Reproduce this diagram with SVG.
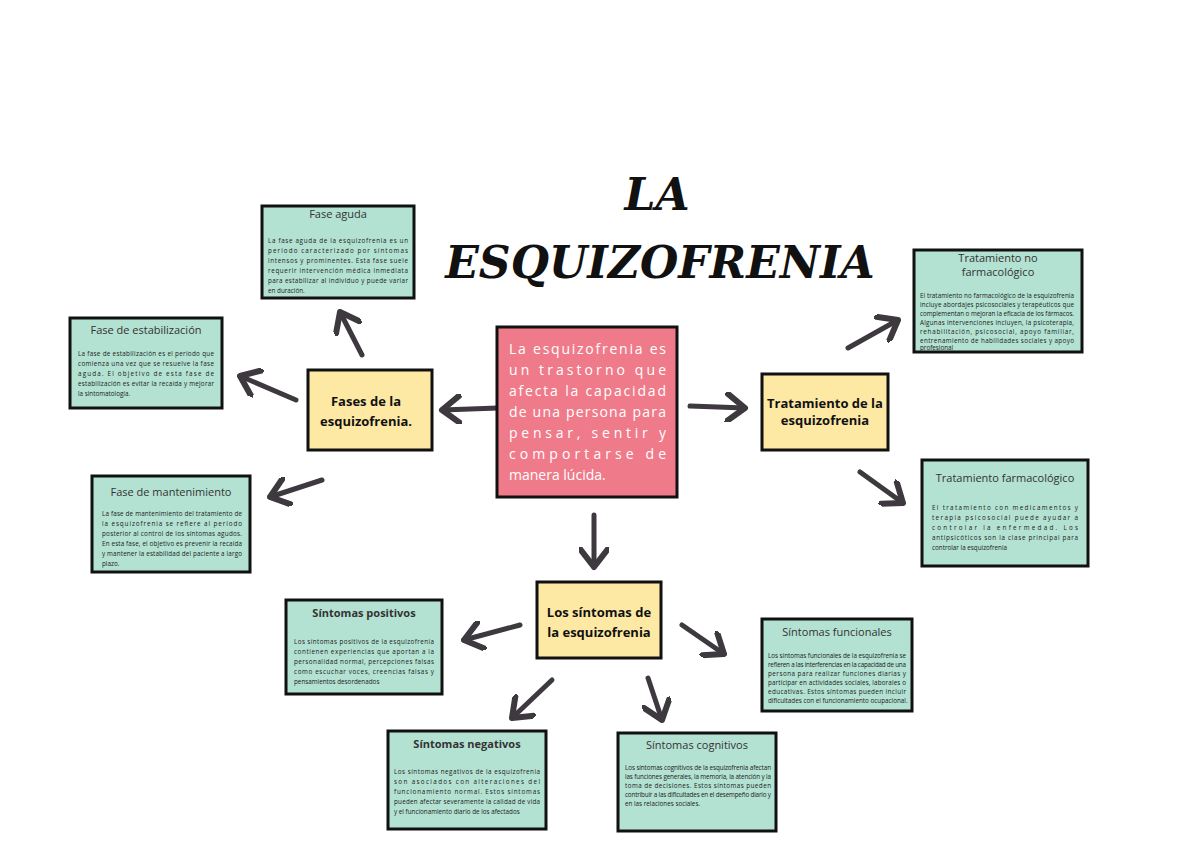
<svg xmlns="http://www.w3.org/2000/svg" width="1200" height="849" viewBox="0 0 1200 849">
<defs>
<marker id="ah" markerWidth="6" markerHeight="6" refX="4" refY="3" orient="auto" markerUnits="strokeWidth"><polyline points="0.5,0.3 4,3 0.5,5.7" fill="none" stroke="#3d393f" stroke-width="1.2" stroke-linecap="round" stroke-linejoin="round"/></marker>
</defs>
<style>
.g{fill:#b3e1d2;stroke:#111;stroke-width:3}
.y{fill:#fde9a4;stroke:#111;stroke-width:3}
.p{fill:#ef7b8a;stroke:#111;stroke-width:3}
.h{font-family:"Open Sans","Liberation Sans",sans-serif;font-size:11px;fill:#333;text-anchor:middle}
.b{font-family:"Open Sans","Liberation Sans",sans-serif;font-size:6.3px;fill:#222}
.yt{font-family:"Open Sans","Liberation Sans",sans-serif;font-size:13px;font-weight:bold;fill:#111;text-anchor:middle}
.c path{fill:none;stroke:#3d393f;stroke-width:5;stroke-linecap:round;marker-end:url(#ah)}
.t{font-family:"DejaVu Serif",serif;font-weight:bold;font-style:italic;font-size:44px;fill:#111;text-anchor:middle}
</style>
<rect width="1200" height="849" fill="#fff"/>
<text class="t" x="657" y="210">LA</text>
<text class="t" x="660" y="278">ESQUIZOFRENIA</text>
<g class="c">
<path d="M362,355 L340,312"/>
<path d="M296,400 L240,376"/>
<path d="M322,480 L270,497"/>
<path d="M498,408 L442,410"/>
<path d="M690,406 L745,408"/>
<path d="M848,348 L898,320"/>
<path d="M860,472 L903,503"/>
<path d="M594,515 L594,567"/>
<path d="M520,625 L464,640"/>
<path d="M682,625 L724,654"/>
<path d="M552,680 L512,718"/>
<path d="M648,678 L662,720"/>
</g>
<g id="central"><rect class="p" x="497" y="327" width="180" height="170"/>
<text font-family="Open Sans,Liberation Sans,sans-serif" font-size="14" fill="#fff" lengthAdjust="spacing"><tspan x="509" y="354" textLength="157">La esquizofrenia es</tspan><tspan x="509" y="375" textLength="157">un trastorno que</tspan><tspan x="509" y="396" textLength="157">afecta la capacidad</tspan><tspan x="509" y="417" textLength="157">de una persona para</tspan><tspan x="509" y="438" textLength="157">pensar, sentir y</tspan><tspan x="509" y="459" textLength="157">comportarse de</tspan><tspan x="509" y="480">manera lúcida.</tspan></text></g>
<g id="fases"><rect class="y" x="308" y="370" width="124" height="80"/><text class="yt" x="366" y="406">Fases de la</text><text class="yt" x="366" y="426">esquizofrenia.</text></g>
<g id="trat"><rect class="y" x="762" y="374" width="126" height="76"/><text class="yt" x="825" y="408" font-size="12">Tratamiento de la</text><text class="yt" x="825" y="425" font-size="12">esquizofrenia</text></g>
<g id="sint"><rect class="y" x="537" y="582" width="124" height="76"/><text class="yt" x="599" y="617">Los síntomas de</text><text class="yt" x="599" y="637">la esquizofrenia</text></g>
<g id="aguda"><rect class="g" x="262" y="206" width="152" height="92"/><text class="h" x="338" y="218">Fase aguda</text>
<text class="b"><tspan x="268" y="243" textLength="140">La fase aguda de la esquizofrenia es un</tspan><tspan x="268" y="253" textLength="140">periodo caracterizado por síntomas</tspan><tspan x="268" y="263" textLength="140">intensos y prominentes. Esta fase suele</tspan><tspan x="268" y="273" textLength="140">requerir intervención médica inmediata</tspan><tspan x="268" y="283" textLength="140">para estabilizar al individuo y puede variar</tspan><tspan x="268" y="293">en duración.</tspan></text></g>
<g id="estab"><rect class="g" x="70" y="318" width="152" height="90"/><text class="h" x="146" y="334">Fase de estabilización</text>
<text class="b"><tspan x="78" y="356" textLength="136">La fase de estabilización es el período que</tspan><tspan x="78" y="366" textLength="136">comienza una vez que se resuelve la fase</tspan><tspan x="78" y="376" textLength="136">aguda. El objetivo de esta fase de</tspan><tspan x="78" y="386" textLength="136">estabilización es evitar la recaída y mejorar</tspan><tspan x="78" y="396">la sintomatología.</tspan></text></g>
<g id="mant"><rect class="g" x="92" y="476" width="158" height="96"/><text class="h" x="171" y="496">Fase de mantenimiento</text>
<text class="b"><tspan x="102" y="516" textLength="140">La fase de mantenimiento del tratamiento de</tspan><tspan x="102" y="526" textLength="140">la esquizofrenia se refiere al período</tspan><tspan x="102" y="536" textLength="140">posterior al control de los síntomas agudos.</tspan><tspan x="102" y="546" textLength="140">En esta fase, el objetivo es prevenir la recaída</tspan><tspan x="102" y="556" textLength="140">y mantener la estabilidad del paciente a largo</tspan><tspan x="102" y="566">plazo.</tspan></text></g>
<g id="nofarm"><rect class="g" x="914" y="250" width="168" height="102"/><text class="h" x="998" y="262" font-size="10">Tratamiento no</text><text class="h" x="998" y="276" font-size="10">farmacológico</text>
<text class="b" font-size="5.6"><tspan x="920" y="298" textLength="154">El tratamiento no farmacológico de la esquizofrenia</tspan><tspan x="920" y="307" textLength="154">incluye abordajes psicosociales y terapéuticos que</tspan><tspan x="920" y="316" textLength="154">complementan o mejoran la eficacia de los fármacos.</tspan><tspan x="920" y="325" textLength="154">Algunas intervenciones incluyen, la psicoterapia,</tspan><tspan x="920" y="334" textLength="154">rehabilitación, psicosocial, apoyo familiar,</tspan><tspan x="920" y="343" textLength="154">entrenamiento de habilidades sociales y apoyo</tspan><tspan x="920" y="350">profesional</tspan></text></g>
<g id="farm"><rect class="g" x="922" y="460" width="166" height="106"/><text class="h" x="1005" y="482" font-size="10">Tratamiento farmacológico</text>
<text class="b" font-size="6.8"><tspan x="932" y="510" textLength="146">El tratamiento con medicamentos y</tspan><tspan x="932" y="520" textLength="146">terapia psicosocial puede ayudar a</tspan><tspan x="932" y="530" textLength="146">controlar la enfermedad. Los</tspan><tspan x="932" y="540" textLength="146">antipsicóticos son la clase principal para</tspan><tspan x="932" y="550">controlar la esquizofrenia</tspan></text></g>
<g id="pos"><rect class="g" x="286" y="600" width="156" height="94"/><text class="h" x="364" y="617" font-weight="bold" fill="#111">Síntomas positivos</text>
<text class="b" font-size="6.8"><tspan x="294" y="644" textLength="140">Los síntomas positivos de la esquizofrenia</tspan><tspan x="294" y="654" textLength="140">contienen experiencias que aportan a la</tspan><tspan x="294" y="664" textLength="140">personalidad normal, percepciones falsas</tspan><tspan x="294" y="674" textLength="140">como escuchar voces, creencias falsas y</tspan><tspan x="294" y="684">pensamientos desordenados</tspan></text></g>
<g id="func"><rect class="g" x="762" y="619" width="150" height="92"/><text class="h" x="837" y="636" fill="#111">Síntomas funcionales</text>
<text class="b" font-size="5.6"><tspan x="768" y="658" textLength="138">Los síntomas funcionales de la esquizofrenia se</tspan><tspan x="768" y="667" textLength="138">refieren a las interferencias en la capacidad de una</tspan><tspan x="768" y="676" textLength="138">persona para realizar funciones diarias y</tspan><tspan x="768" y="685" textLength="138">participar en actividades sociales, laborales o</tspan><tspan x="768" y="694" textLength="138">educativas. Estos síntomas pueden incluir</tspan><tspan x="768" y="703">dificultades con el funcionamiento ocupacional.</tspan></text></g>
<g id="neg"><rect class="g" x="388" y="731" width="158" height="98"/><text class="h" x="467" y="748" font-weight="bold" fill="#111">Síntomas negativos</text>
<text class="b" font-size="6.8"><tspan x="394" y="774" textLength="146">Los síntomas negativos de la esquizofrenia</tspan><tspan x="394" y="784" textLength="146">son asociados con alteraciones del</tspan><tspan x="394" y="794" textLength="146">funcionamiento normal. Estos síntomas</tspan><tspan x="394" y="804" textLength="146">pueden afectar severamente la calidad de vida</tspan><tspan x="394" y="814">y el funcionamiento diario de los afectados</tspan></text></g>
<g id="cog"><rect class="g" x="618" y="733" width="158" height="98"/><text class="h" x="697" y="749" fill="#111">Síntomas cognitivos</text>
<text class="b" font-size="5.6"><tspan x="625" y="770" textLength="146">Los síntomas cognitivos de la esquizofrenia afectan</tspan><tspan x="625" y="779" textLength="146">las funciones generales, la memoria, la atención y la</tspan><tspan x="625" y="788" textLength="146">toma de decisiones. Estos síntomas pueden</tspan><tspan x="625" y="797" textLength="146">contribuir a las dificultades en el desempeño diario y</tspan><tspan x="625" y="806">en las relaciones sociales.</tspan></text></g>
</svg>
